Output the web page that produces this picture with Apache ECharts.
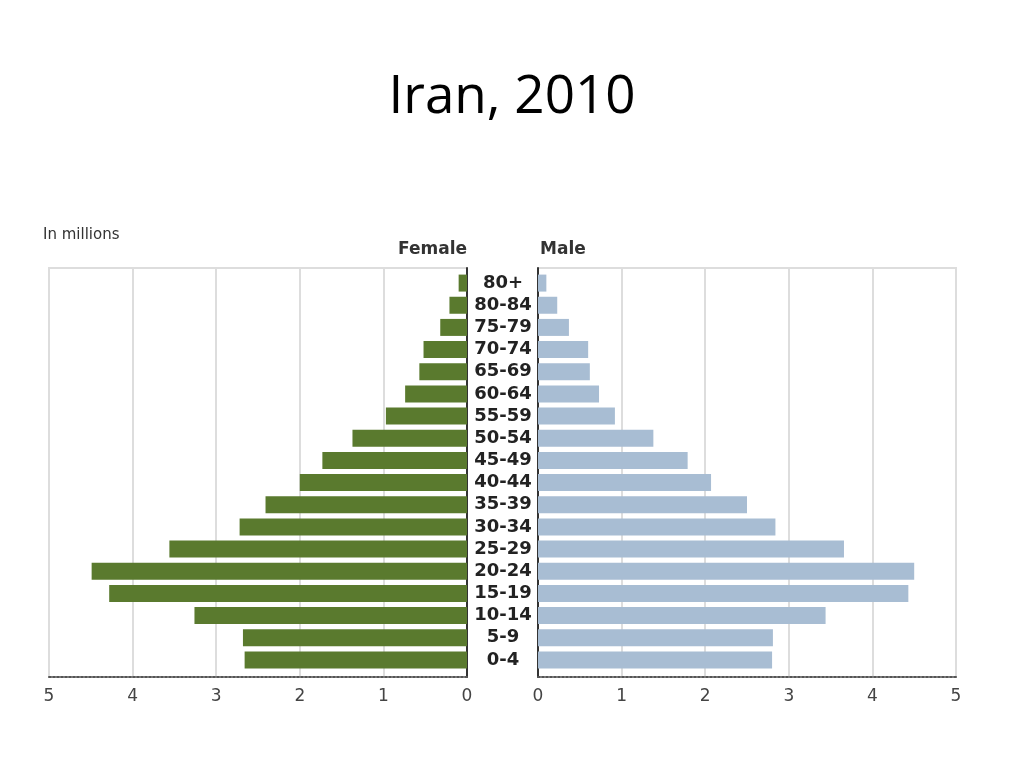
<!DOCTYPE html>
<html>
<head>
<meta charset="utf-8">
<title>Iran, 2010</title>
<script src="https://cdn.jsdelivr.net/npm/echarts@6/dist/echarts.min.js"></script>
<style>
  html,body{margin:0;padding:0;background:#fff;}
  #main{width:1024px;height:768px;}
</style>
</head>
<body>
<div id="main"></div>
<script>
// age groups, bottom to top
var ages = ['0-4','5-9','10-14','15-19','20-24','25-29','30-34','35-39','40-44','45-49','50-54','55-59','60-64','65-69','70-74','75-79','80-84','80+']
// millions
var female = [2.66,2.68,3.26,4.28,4.49,3.56,2.72,2.41,2.00,1.73,1.37,0.97,0.74,0.57,0.52,0.32,0.21,0.10]
var male = [2.80,2.81,3.44,4.43,4.50,3.66,2.84,2.50,2.07,1.79,1.38,0.92,0.73,0.62,0.60,0.37,0.23,0.10]
var ticks = [0,1,2,3,4,5]

var myChart = echarts.init(document.getElementById('main'))

var tickLabel = {color:'#444',fontFamily:'DejaVu Sans',fontSize:17,margin:11,
  formatter:function(v){return ticks.indexOf(v)>=0 ? String(v) : ''}}

option = {
  backgroundColor:'#fff',
  animation:false,
  graphic:[
    {type:'text',left:'center',top:71,style:{text:'Iran, 2010',font:'53px "Open Sans"',fill:'#000'}},
    {type:'text',left:43,top:228,style:{text:'In millions',font:'15px "DejaVu Sans"',fill:'#333'}},
    {type:'text',right:1024-467,top:241,style:{text:'Female',font:'bold 17px "DejaVu Sans"',fill:'#333'}},
    {type:'text',left:540,top:241,style:{text:'Male',font:'bold 17px "DejaVu Sans"',fill:'#333'}}
  ],
  grid:[
    // frames with ticks and grid lines
    {left:49,top:268,width:418,height:409,show:true,borderColor:'#ddd',borderWidth:2},
    {left:538,top:268,width:418,height:409,show:true,borderColor:'#ddd',borderWidth:2},
    // bars
    {left:49,top:272,width:418,height:399},
    {left:538,top:272,width:418,height:399}
  ],
  xAxis:[
    {gridIndex:0,type:'value',min:0,max:5,interval:1,inverse:true,
     axisLine:{show:true,lineStyle:{color:'#555',width:2,type:'dotted'}},
     axisTick:{show:false},axisLabel:tickLabel,
     splitLine:{show:true,lineStyle:{color:'#ddd',width:2}}},
    {gridIndex:1,type:'value',min:0,max:5,interval:1,
     axisLine:{show:true,lineStyle:{color:'#555',width:2,type:'dotted'}},
     axisTick:{show:false},axisLabel:tickLabel,
     splitLine:{show:true,lineStyle:{color:'#ddd',width:2}}},
    {gridIndex:2,type:'value',min:0,max:5,inverse:true,show:false},
    {gridIndex:3,type:'value',min:0,max:5,show:false}
  ],
  yAxis:[
    {gridIndex:0,type:'value',min:0,max:1,position:'right',
     axisLine:{show:true,onZero:false,lineStyle:{color:'#333',width:2}},
     axisTick:{show:false},axisLabel:{show:false},splitLine:{show:false}},
    {gridIndex:1,type:'value',min:0,max:1,position:'left',
     axisLine:{show:true,onZero:false,lineStyle:{color:'#333',width:2}},
     axisTick:{show:false},axisLabel:{show:false},splitLine:{show:false}},
    {gridIndex:2,type:'category',data:ages,position:'right',
     axisLine:{show:false},axisTick:{show:false},
     axisLabel:{interval:0,margin:36,align:'center',color:'#222',fontFamily:'DejaVu Sans',fontWeight:'bold',fontSize:18}},
    {gridIndex:3,type:'category',data:ages,show:false}
  ],
  series:[
    {name:'Female',type:'bar',xAxisIndex:2,yAxisIndex:2,data:female,barWidth:17,
     itemStyle:{color:'#5a7a2e'}},
    {name:'Male',type:'bar',xAxisIndex:3,yAxisIndex:3,data:male,barWidth:17,
     itemStyle:{color:'#a8bdd3'}}
  ]
}
myChart.setOption(option)
</script>
</body>
</html>
